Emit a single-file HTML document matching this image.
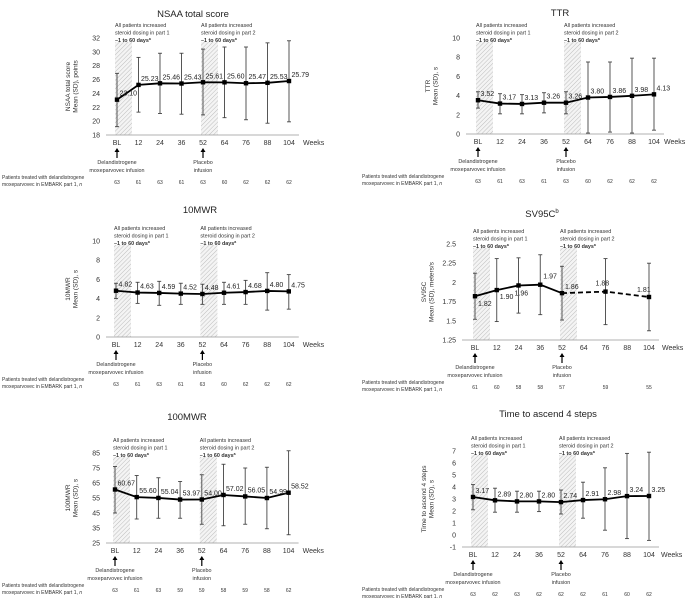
<!DOCTYPE html>
<html><head><meta charset="utf-8">
<style>
html,body{margin:0;padding:0;background:#fff;}
svg{display:block;font-family:"Liberation Sans",Arial,sans-serif;}
</style></head>
<body>
<svg id="fig" width="685" height="598" viewBox="0 0 685 598" xmlns="http://www.w3.org/2000/svg">
<defs>
<pattern id="hatch" width="3" height="3" patternUnits="userSpaceOnUse" patternTransform="rotate(45)">
<rect width="3" height="3" fill="#f4f4f4"/>
<line x1="0" y1="0" x2="0" y2="3" stroke="#bdbdbd" stroke-width="1"/>
</pattern>
</defs>
</svg>
<script>
const categories = ["BL","12","24","36","52","64","76","88","104"];

const nsaaMean = [23.10,25.23,25.46,25.43,25.61,25.60,25.47,25.53,25.79];
const nsaaLow  = [19.2,21.3,21.1,21.0,20.9,20.5,20.2,19.7,19.9];
const nsaaHigh = [26.9,29.2,29.8,29.8,30.4,30.7,30.7,31.3,31.6];
const nsaaN    = ["63","61","63","61","63","60","62","62","62"];
const nsaaTicks = ["18","20","22","24","26","28","30","32"];

const ttrMean = [3.52,3.17,3.13,3.26,3.26,3.80,3.86,3.98,4.13];
const ttrLow  = [2.7,2.1,2.1,2.2,2.1,0.1,0.2,0.1,0.4];
const ttrHigh = [4.4,4.2,4.1,4.3,4.4,7.5,7.5,7.9,7.9];
const ttrN    = ["63","61","63","61","63","60","62","62","62"];
const ttrTicks = ["0","2","4","6","8","10"];

const mwr10Mean = [4.82,4.63,4.59,4.52,4.48,4.61,4.68,4.80,4.75];
const mwr10Low  = [4.0,3.5,3.3,3.4,3.4,3.4,3.4,2.8,2.9];
const mwr10High = [5.6,5.7,5.8,5.6,5.5,5.7,5.9,6.7,6.5];
const mwr10N    = ["63","61","63","61","63","60","62","62","62"];
const mwr10Ticks = ["0","2","4","6","8","10"];

const sv95Mean = [1.82,1.90,1.96,1.97,1.86,null,1.88,null,1.81];
const sv95Low  = [1.52,1.49,1.60,1.58,1.51,null,1.45,null,1.37];
const sv95High = [2.12,2.31,2.32,2.36,2.21,null,2.31,null,2.25];
const sv95N    = ["61","60","58","58","57","","59","","55"];
const sv95Ticks = ["1.25","1.5","1.75","2","2.25","2.5"];

const mwr100Mean = [60.67,55.60,55.04,53.97,54.00,57.02,56.05,54.99,58.52];
const mwr100Low  = [45,41,41.5,41.5,37.5,36.5,37.5,34.5,30.5];
const mwr100High = [76,70,68.5,66,70.5,77.5,75,75.5,86.5];
const mwr100N    = ["63","61","63","59","59","58","59","58","62"];
const mwr100Ticks = ["25","35","45","55","65","75","85"];

const stepsMean = [3.17,2.89,2.80,2.80,2.74,2.91,2.98,3.24,3.25];
const stepsLow  = [2.1,1.9,1.9,1.95,1.75,1.4,0.4,-0.3,-0.45];
const stepsHigh = [4.2,3.9,3.65,3.65,3.75,4.4,5.6,6.8,6.9];
const stepsN    = ["63","62","63","62","62","62","61","60","62"];
const stepsTicks = ["-1","0","1","2","3","4","5","6","7"];

const NS = "http://www.w3.org/2000/svg";
const svg = document.getElementById("fig");
function mk(tag, attrs, parent, txt){
  const e = document.createElementNS(NS, tag);
  for (const k in attrs) e.setAttribute(k, attrs[k]);
  if (txt !== undefined) e.textContent = txt;
  (parent || svg).appendChild(e);
  return e;
}

const panels = [
 {key:"nsaa", title:"NSAA total score", tx:193, ty:13, ytitle:["NSAA total score","Mean (SD), points"], axisX:106, x0:117, dx:21.5, yTop:38, yBot:135, ticks:nsaaTicks, mean:nsaaMean, lo:nsaaLow, hi:nsaaHigh, n:nsaaN, pl:2, dashFrom:99, wk:14},
 {key:"ttr", title:"TTR", tx:560, ty:12, ytitle:["TTR","Mean (SD), s"], axisX:466, x0:478, dx:22, yTop:38, yBot:134, ticks:ttrTicks, mean:ttrMean, lo:ttrLow, hi:ttrHigh, n:ttrN, pl:362, dashFrom:99, wk:10},
 {key:"10mwr", title:"10MWR", tx:200, ty:209, ytitle:["10MWR","Mean (SD), s"], axisX:106, x0:116, dx:21.6, yTop:241, yBot:337, ticks:mwr10Ticks, mean:mwr10Mean, lo:mwr10Low, hi:mwr10High, n:mwr10N, pl:2, dashFrom:99, wk:14},
 {key:"sv95c", title:"SV95C", sup:"b", tx:542, ty:213, ytitle:["SV95C","Mean (SD), meters/s"], axisX:462, x0:475, dx:21.75, yTop:244, yBot:340, ticks:sv95Ticks, mean:sv95Mean, lo:sv95Low, hi:sv95High, n:sv95N, pl:362, dashFrom:4, wk:13,
  lblOff:[[3,10],[3,9],[-4,10],[3,-6],[3,-4],[0,0],[-10,-6],[0,0],[-12,-5]]},
 {key:"100mwr", title:"100MWR", tx:187, ty:416, ytitle:["100MWR","Mean (SD), s"], axisX:106, x0:115, dx:21.7, yTop:453, yBot:543, ticks:mwr100Ticks, mean:mwr100Mean, lo:mwr100Low, hi:mwr100High, n:mwr100N, pl:2, dashFrom:99, wk:14},
 {key:"steps", title:"Time to ascend 4 steps", tx:548, ty:413, ytitle:["Time to ascend 4 steps","Mean (SD), s"], axisX:462, x0:473, dx:22, yTop:451, yBot:547, ticks:stepsTicks, mean:stepsMean, lo:stepsLow, hi:stepsHigh, n:stepsN, pl:362, dashFrom:99, wk:12}
];

panels.forEach(p => {
  const g = mk("g", {});
  
  
  const tmin = parseFloat(p.ticks[0]), tmax = parseFloat(p.ticks[p.ticks.length-1]);
  const y = v => p.yBot - (v - tmin) / (tmax - tmin) * (p.yBot - p.yTop);
  const x = i => p.x0 + i * p.dx;

  const t = mk("text", {x:p.tx, y:p.ty+4, "text-anchor":"middle", "font-size":"9.5", fill:"#222"}, g, p.title);
  
  
  if (p.sup) mk("tspan", {"font-size":"6", dy:"-4"}, t, p.sup);

  [0,4].forEach(i => {
    const r = mk("rect", {x:x(i)-2, y:p.yTop+4, width:17, height:p.yBot-p.yTop-4, fill:"url(#hatch)"}, g);
    
    
    const a = mk("text", {x:x(i)-2, y:p.yTop-11, "font-size":"5.4", fill:"#333"}, g);
    
    
    mk("tspan", {x:x(i)-2, dy:0}, a, "All patients increased");
    mk("tspan", {x:x(i)-2, dy:7.5}, a, "steroid dosing in part " + (i===0?"1":"2"));
    mk("tspan", {x:x(i)-2, dy:7.5, "font-weight":"bold"}, a, "\u20131 to 60 days");
    mk("tspan", {"font-size":"3.5", dy:-2, "font-weight":"bold"}, a, "a");
  });

  p.ticks.forEach(tk => {
    const tl = mk("text", {x:p.axisX-6, y:y(parseFloat(tk))+2.5, "text-anchor":"end", "font-size":"7", fill:"#333"}, g, tk);
    
    
  });
  const ty = (p.yTop + p.yBot) / 2;
  const yt = mk("text", {transform:`translate(${p.axisX-35},${ty}) rotate(-90)`, "text-anchor":"middle", "font-size":"6.5", fill:"#333"}, g);
  
  
  mk("tspan", {x:0, dy:-1}, yt, p.ytitle[0]);
  mk("tspan", {x:0, dy:7.5}, yt, p.ytitle[1]);

  const ax = mk("line", {x1:p.axisX, x2:x(8)+10, y1:p.yBot, y2:p.yBot, stroke:"#999", "stroke-width":"0.8"}, g);
  
  
  categories.forEach((c,i) => {
    const xl = mk("text", {x:x(i), y:p.yBot+10, "text-anchor":"middle", "font-size":"7", fill:"#333"}, g, c);
    
    
  });
  const wk = mk("text", {x:x(8)+p.wk, y:p.yBot+10, "font-size":"7", fill:"#333"}, g, "Weeks");
  
  

  [[0,"Delandistrogene","moxeparvovec infusion"],[4,"Placebo","infusion"]].forEach(([i,l1,l2]) => {
    const ar = mk("g", {}, g);
    
    
    mk("line", {x1:x(i), x2:x(i), y1:p.yBot+16, y2:p.yBot+23, stroke:"#000", "stroke-width":"1.2"}, ar);
    mk("path", {d:`M${x(i)-2.5},${p.yBot+17} L${x(i)},${p.yBot+13} L${x(i)+2.5},${p.yBot+17} Z`, fill:"#000"}, ar);
    mk("text", {x:x(i), y:p.yBot+29, "text-anchor":"middle", "font-size":"5.4", fill:"#333"}, ar, l1);
    mk("text", {x:x(i), y:p.yBot+37, "text-anchor":"middle", "font-size":"5.4", fill:"#333"}, ar, l2);
  });

  const pt = mk("text", {x:p.pl, y:p.yBot+44, "font-size":"5", fill:"#333"}, g);
  
  
  mk("tspan", {x:p.pl, dy:0}, pt, "Patients treated with delandistrogene");
  mk("tspan", {x:p.pl, dy:7}, pt, "moxeparvovec in EMBARK part 1, ");
  mk("tspan", {"font-style":"italic"}, pt, "n");
  p.n.forEach((v,i) => {
    const nt = mk("text", {x:x(i), y:p.yBot+49, "text-anchor":"middle", "font-size":"5", fill:"#333"}, g, v);
    
    
  });

  p.mean.forEach((m,i) => {
    if (m === null) return;
    const eb = mk("g", {stroke:"#444", "stroke-width":"0.9"}, g);
    
    
    mk("line", {x1:x(i), x2:x(i), y1:y(p.lo[i]), y2:y(p.hi[i])}, eb);
    mk("line", {x1:x(i)-2, x2:x(i)+2, y1:y(p.lo[i]), y2:y(p.lo[i])}, eb);
    mk("line", {x1:x(i)-2, x2:x(i)+2, y1:y(p.hi[i]), y2:y(p.hi[i])}, eb);
  });

  const pts = p.mean.map((m,i) => m === null ? null : [x(i), y(m), i]).filter(Boolean);
  const solid = pts.filter(q => q[2] <= p.dashFrom);
  const dashed = pts.filter(q => q[2] >= p.dashFrom);
  const ln = mk("polyline", {points:solid.map(q=>q[0]+","+q[1]).join(" "), fill:"none", stroke:"#000", "stroke-width":"1.8"}, g);
  
  
  if (dashed.length > 1) {
    const dl = mk("polyline", {points:dashed.map(q=>q[0]+","+q[1]).join(" "), fill:"none", stroke:"#000", "stroke-width":"1.8", "stroke-dasharray":"5,3"}, g);
    
    
  }
  pts.forEach(q => {
    const i = q[2];
    const pm = mk("rect", {x:q[0]-2.2, y:q[1]-2.2, width:4.4, height:4.4, fill:"#000"}, g);
    
    
    const off = p.lblOff ? p.lblOff[i] : [2.5,-4];
    const lb = mk("text", {x:q[0]+off[0], y:q[1]+off[1], "font-size":"7", fill:"#222"}, g, p.mean[i].toFixed(2));
    
    
  });
});
</script>
</body></html>
